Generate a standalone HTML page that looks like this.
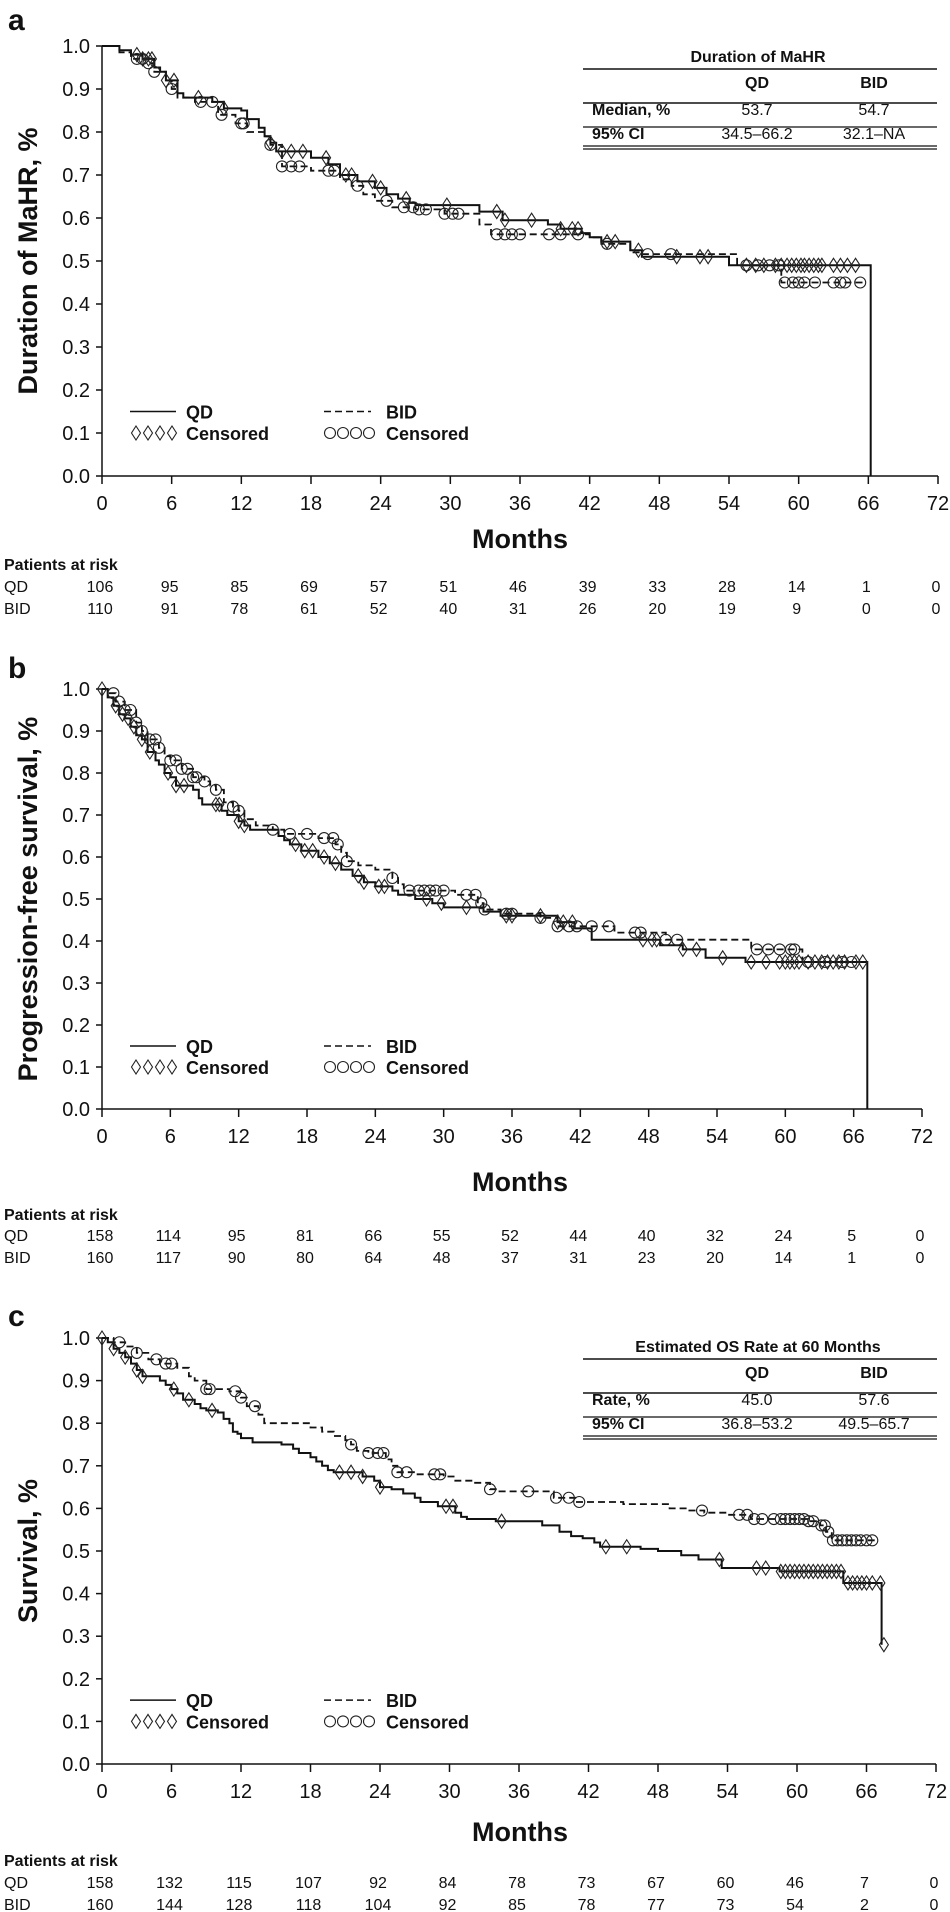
<!DOCTYPE html>
<html><head><meta charset="utf-8">
<style>
html,body{margin:0;padding:0;background:#fff;}
svg{display:block;font-family:"Liberation Sans",Arial,sans-serif;}
.tk{font-size:20px;fill:#111;}
.ttl{font-size:27px;font-weight:bold;fill:#111;}
.lg{font-size:18px;font-weight:bold;fill:#111;}
.rk{font-size:16px;fill:#111;}
.tb{font-size:16px;fill:#111;}
.tbb{font-size:16px;font-weight:bold;fill:#111;}
</style></head>
<body>
<svg id="chart" width="950" height="1912" viewBox="0 0 950 1912" xmlns="http://www.w3.org/2000/svg"></svg>
<script>
// ---------- shared axis data ----------
const xTicks = [0,6,12,18,24,30,36,42,48,54,60,66,72];
const yTicks = [0,0.1,0.2,0.3,0.4,0.5,0.6,0.7,0.8,0.9,1.0];

// ---------- Panel a: Duration of MaHR ----------
const aQdT = [0,1.5,2.5,3.5,4.5,5,5.5,6.5,7,9.5,10.5,12,12.5,13.5,14,14.5,15,18,19.5,20.5,22,23.5,24.5,25.5,26.5,27,32.5,34.5,38.4,39.5,41.3,42,43,45.5,46.5,54,66.2];
const aQdS = [1,0.99,0.98,0.97,0.95,0.94,0.92,0.89,0.88,0.87,0.855,0.85,0.83,0.81,0.79,0.775,0.755,0.74,0.725,0.70,0.685,0.67,0.655,0.645,0.635,0.63,0.615,0.595,0.585,0.575,0.565,0.555,0.545,0.525,0.51,0.49,0];
const aBidT = [0,1.5,2.5,4,4.5,5.5,6,6.5,8,10,11.5,12.5,14,14.5,15.5,18,20.5,21.5,22.5,23.5,25,27,29.5,32.5,33.5,42,43,45.5,46.5,54.7,58.5];
const aBidS = [1,0.985,0.97,0.96,0.94,0.92,0.90,0.88,0.87,0.84,0.82,0.80,0.79,0.77,0.72,0.71,0.69,0.675,0.655,0.64,0.625,0.62,0.61,0.585,0.562,0.555,0.54,0.52,0.516,0.49,0.45];
const aBidEnd = 65.5;
const aQdCens = [3,3.5,4,4.3,5.5,6.2,8.3,10.5,14.5,15.5,16.3,17.3,19.3,21,21.5,23.3,24,26.2,29.7,34,34.7,37,39.5,40.5,41,43.5,44.2,46.2,49.5,51.5,52.2,55.5,56.3,57,58,58.5,59,59.4,59.8,60.2,60.5,60.9,61.3,61.7,62,63,63.6,64.2,64.9];
const aBidCens = [3,3.5,4,4.5,6,8.5,9.5,10.3,12,12.2,14.5,15.5,16.3,17,19.5,20,22,24.5,26,26.8,27.3,27.9,29.5,30.2,30.7,34,34.7,35.3,36,38.5,39.5,41,43.5,47,49,55.5,56.5,57.5,58.3,58.8,59.5,60,60.5,61.4,63,63.6,64,65.3];
const aRiskQd = [106,95,85,69,57,51,46,39,33,28,14,1,0];
const aRiskBid = [110,91,78,61,52,40,31,26,20,19,9,0,0];

// ---------- Panel b: PFS ----------
const bQdT = [0,0.5,1,1.5,2,2.5,3,3.5,4,4.7,5,5.5,6,6.5,8,8.5,8.8,10.5,11,12,12.5,13,15.5,16,16.5,17.5,19,20,21,22,23,24,25.5,26,27.5,29,30,33.5,35,40,41.5,43,49,51,53,56.5,67.2];
const bQdS = [1,0.98,0.96,0.94,0.93,0.91,0.89,0.88,0.85,0.83,0.82,0.80,0.79,0.77,0.76,0.74,0.725,0.71,0.70,0.685,0.675,0.665,0.65,0.64,0.63,0.615,0.60,0.585,0.57,0.555,0.54,0.53,0.52,0.51,0.50,0.49,0.48,0.47,0.46,0.445,0.43,0.403,0.39,0.38,0.36,0.35,0];
const bBidT = [0,0.5,1.2,2,3,3.5,4,5,5.5,6,7,8,9,9.5,10,10.7,11.5,12,12.5,13.5,15,16,19,20.5,21,21.5,22.5,24,25.5,26,26.5,31,33,33.5,35,38.5,40,45,49.5,57,61.5];
const bBidS = [1,0.99,0.97,0.95,0.92,0.90,0.88,0.86,0.84,0.83,0.81,0.79,0.78,0.77,0.76,0.73,0.72,0.71,0.69,0.675,0.665,0.655,0.645,0.63,0.61,0.59,0.58,0.57,0.55,0.535,0.52,0.51,0.49,0.475,0.465,0.455,0.435,0.42,0.403,0.38,0.35];
const bBidEnd = 66.2;
const bQdCens = [0,1.2,1.8,2.3,2.8,3.5,4.2,5.8,6.5,7.2,10,10.3,12,12.5,17,17.8,18.5,19.5,20.5,22.5,23,24.3,24.8,28.5,29.8,32,35.5,36,38.5,40,40.5,41.3,47.5,48.3,48.7,51,52.2,54.5,57,58.3,59.5,60,60.4,60.8,61.2,62,62.6,63.2,63.7,64.2,64.7,65.2,66.2,66.8];
const bBidCens = [1,1.5,2,2.5,3,3.5,4.2,4.7,5,6,6.5,7,7.5,8,8.3,9,10,11.5,12,15,16.5,18,19.5,20.3,20.7,21.5,25.5,27,27.8,28.3,28.8,29.3,30,32,32.8,33.3,33.6,35.5,36,38.5,40,41,41.7,43,44.5,46.8,47.3,49.5,50.5,57.5,58.5,59.5,60.5,60.8,62,63.5,65,65.8];
const bRiskQd = [158,114,95,81,66,55,52,44,40,32,24,5,0];
const bRiskBid = [160,117,90,80,64,48,37,31,23,20,14,1,0];

// ---------- Panel c: OS ----------
const cQdT = [0,0.5,1,1.5,2,2.5,3,3.5,5,5.5,6,6.5,7,8,8.5,9,10,10.5,11,11.3,11.7,12,13,15.5,16.5,17,18,18.5,19,19.5,20,22.5,23.5,24,25,26,27,27.5,29,30.5,31,31.5,34,38,39.5,40.5,41.5,42.5,43,46.5,48,50,51.5,53.5,58.5,64,67.3];
const cQdS = [1,0.99,0.975,0.965,0.955,0.94,0.925,0.91,0.90,0.89,0.88,0.87,0.855,0.845,0.835,0.83,0.825,0.81,0.80,0.78,0.775,0.765,0.755,0.75,0.74,0.73,0.72,0.71,0.70,0.69,0.685,0.675,0.665,0.65,0.645,0.635,0.625,0.615,0.605,0.59,0.58,0.575,0.57,0.56,0.545,0.535,0.53,0.52,0.51,0.505,0.50,0.49,0.48,0.46,0.452,0.425,0.28];
const cBidT = [0,1,2,3,4,5,6.5,7.5,8,9,11,12,12.5,13.5,14,18,19,20,21,21.5,22,23,24.5,25,25.5,27,29.5,30.5,32,33.5,34,39,41,45,49,50.5,52,54,56,61,62,62.5,63];
const cBidS = [1,0.99,0.98,0.965,0.95,0.94,0.93,0.91,0.90,0.88,0.875,0.86,0.84,0.82,0.80,0.79,0.78,0.77,0.76,0.75,0.735,0.73,0.715,0.70,0.685,0.68,0.675,0.665,0.66,0.645,0.64,0.625,0.615,0.61,0.60,0.595,0.59,0.585,0.575,0.57,0.56,0.545,0.525];
const cBidEnd = 67;
const cQdCens = [0,1,2,3,3.5,6.2,7.5,9.5,20.5,21.5,22.5,24,29.7,30.3,34.5,43.5,45.3,53.3,56.5,57.3,58.6,59,59.4,59.8,60.2,60.6,61,61.4,61.8,62.2,62.6,63,63.4,63.8,64.4,64.8,65.2,65.6,66,66.5,67.2,67.5];
const cBidCens = [1.5,3,4.7,5.5,6,9,9.3,11.5,12,13.2,21.5,23,23.8,24.3,25.5,26.3,28.7,29.2,33.5,36.8,39.2,40.3,41.2,51.8,55,55.7,56.3,57,58,58.6,59,59.4,59.8,60.2,60.6,61,61.4,62.1,62.4,62.7,63.1,63.5,63.9,64.3,64.7,65.1,65.5,66,66.5];
const cRiskQd = [158,132,115,107,92,84,78,73,67,60,46,7,0];
const cRiskBid = [160,144,128,118,104,92,85,78,77,73,54,2,0];

// ---------- drawing ----------
const NS = "http://www.w3.org/2000/svg";
const svg = document.getElementById('chart');
function mk(tag, attrs, parent, text){
  const e = document.createElementNS(NS, tag);
  for (const k in attrs) e.setAttribute(k, attrs[k]);
  if (text !== undefined) e.textContent = text;
  (parent || svg).appendChild(e);
  return e;
}
function stepVal(T,S,t){ let v=S[0]; for(let i=0;i<T.length;i++){ if(T[i]<=t) v=S[i]; } return v; }
function stepPath(T,S,sx,sy,endT){
  let d = 'M'+sx(T[0])+','+sy(S[0]);
  for(let i=1;i<T.length;i++){ d += ' H'+sx(T[i]).toFixed(1)+' V'+sy(S[i]).toFixed(1); }
  d += ' H'+sx(endT).toFixed(1);
  return d;
}

function panel(cfg){
  const g = mk('g', {});
  
  
  const sx = m => cfg.x0 + (cfg.x1-cfg.x0)*m/72;
  const sy = v => cfg.yb - (cfg.yb-cfg.yt)*v;
  // letter
  const L = mk('text', {x:8, y:cfg.letterY, 'font-size':30, 'font-weight':'bold', fill:'#111'}, g, cfg.id);
  
  
  // axes
  const ax = mk('g', {stroke:'#111','stroke-width':1.5, fill:'none'}, g);
  
  
  mk('line', {x1:cfg.x0, y1:cfg.yt, x2:cfg.x0, y2:cfg.yb}, ax);
  mk('line', {x1:cfg.x0, y1:cfg.yb, x2:cfg.x1, y2:cfg.yb}, ax);
  yTicks.forEach(v=>{
    mk('line', {x1:cfg.x0-6, y1:sy(v), x2:cfg.x0, y2:sy(v)}, ax);
    const t = mk('text', {x:cfg.x0-12, y:sy(v)+7, 'text-anchor':'end', class:'tk'}, g, v.toFixed(1));
    
    
  });
  xTicks.forEach((m,i)=>{
    mk('line', {x1:sx(m), y1:cfg.yb, x2:sx(m), y2:cfg.yb+8}, ax);
    const t = mk('text', {x:sx(m), y:cfg.yb+34, 'text-anchor':'middle', class:'tk'}, g, String(m));
    
    
    const r1 = mk('text', {x:sx(m)-2, y:cfg.riskY1, 'text-anchor':'middle', class:'rk'}, g, String(cfg.riskQd[i]));
    
    
    const r2 = mk('text', {x:sx(m)-2, y:cfg.riskY2, 'text-anchor':'middle', class:'rk'}, g, String(cfg.riskBid[i]));
    
    
  });
  // titles
  const yc = (cfg.yt+cfg.yb)/2;
  const yt = mk('text', {x:0, y:0, transform:'translate(37,'+yc+') rotate(-90)', 'text-anchor':'middle', class:'ttl'}, g, cfg.ytitle);
  
  
  const xt = mk('text', {x:(cfg.x0+938)/2, y:cfg.monthsY, 'text-anchor':'middle', class:'ttl'}, g, 'Months');
  
  
  // risk table labels
  const pr = mk('text', {x:4, y:cfg.riskY0, 'font-size':16, 'font-weight':'bold', fill:'#111'}, g, 'Patients at risk');
  
  
  const lq = mk('text', {x:4, y:cfg.riskY1, class:'rk'}, g, 'QD');
  
  
  const lb = mk('text', {x:4, y:cfg.riskY2, class:'rk'}, g, 'BID');
  
  
  // curves
  const pq = mk('path', {d:stepPath(cfg.qdT,cfg.qdS,sx,sy,cfg.qdT[cfg.qdT.length-1]), fill:'none', stroke:'#111','stroke-width':2}, g);
  
  
  const pb = mk('path', {d:stepPath(cfg.bidT,cfg.bidS,sx,sy,cfg.bidEnd), fill:'none', stroke:'#111','stroke-width':1.8,'stroke-dasharray':'7,4'}, g);
  
  
  // censor marks
  const cg = mk('g', {fill:'none', stroke:'#222','stroke-width':1.1}, g);
  cfg.qdCens.forEach(t=>{
    let v = stepVal(cfg.qdT,cfg.qdS,t); if(v===0) v = cfg.qdS[cfg.qdS.length-2];
    const x = sx(t), y = sy(v);
    const d = mk('path', {d:'M'+x+','+(y-7)+' L'+(x+4.5)+','+y+' L'+x+','+(y+7)+' L'+(x-4.5)+','+y+' Z'}, cg);
    
    
  });
  cfg.bidCens.forEach(t=>{
    const v = stepVal(cfg.bidT,cfg.bidS,t);
    const c = mk('circle', {cx:sx(t), cy:sy(v), r:5.5}, cg);
    
    
  });
  // legend
  const lgY1 = sy(0.135)+2, lgY2 = sy(0.115)+6;
  const lgd = mk('g', {}, g);
  
  
  mk('line', {x1:130, y1:sy(0.15), x2:176, y2:sy(0.15), stroke:'#111','stroke-width':1.5}, lgd);
  mk('text', {x:186, y:sy(0.15)+7, class:'lg'}, lgd, 'QD');
  mk('line', {x1:324, y1:sy(0.15), x2:371, y2:sy(0.15), stroke:'#111','stroke-width':1.5,'stroke-dasharray':'7,4'}, lgd);
  mk('text', {x:386, y:sy(0.15)+7, class:'lg'}, lgd, 'BID');
  const ry = sy(0.1);
  for(let k=0;k<4;k++){
    const x = 136 + k*12;
    mk('path', {d:'M'+x+','+(ry-7)+' L'+(x+4.5)+','+ry+' L'+x+','+(ry+7)+' L'+(x-4.5)+','+ry+' Z', fill:'none', stroke:'#222','stroke-width':1.1}, lgd);
    mk('circle', {cx:330+k*13, cy:ry, r:5.5, fill:'none', stroke:'#222','stroke-width':1.1}, lgd);
  }
  mk('text', {x:186, y:ry+7, class:'lg'}, lgd, 'Censored');
  mk('text', {x:386, y:ry+7, class:'lg'}, lgd, 'Censored');
}

function table(cfg){
  const g = mk('g', {});
  
  
  const x0=583, x1=937, y=cfg.y;
  mk('text', {x:758, y:y, 'text-anchor':'middle', class:'tbb'}, g, cfg.title);
  [[y+7,1.6],[y+41,1.6],[y+65,1.2],[y+84,1.2],[y+87,1.2]].forEach(l=>mk('line',{x1:x0,x2:x1,y1:l[0],y2:l[0],stroke:'#111','stroke-width':l[1]},g));
  mk('text', {x:757, y:y+26, 'text-anchor':'middle', class:'tbb'}, g, 'QD');
  mk('text', {x:874, y:y+26, 'text-anchor':'middle', class:'tbb'}, g, 'BID');
  mk('text', {x:592, y:y+53, class:'tbb'}, g, cfg.r1);
  mk('text', {x:757, y:y+53, 'text-anchor':'middle', class:'tb'}, g, cfg.v1[0]);
  mk('text', {x:874, y:y+53, 'text-anchor':'middle', class:'tb'}, g, cfg.v1[1]);
  mk('text', {x:592, y:y+77, class:'tbb'}, g, '95% CI');
  mk('text', {x:757, y:y+77, 'text-anchor':'middle', class:'tb'}, g, cfg.v2[0]);
  mk('text', {x:874, y:y+77, 'text-anchor':'middle', class:'tb'}, g, cfg.v2[1]);
}

panel({id:'a', x0:102, x1:938, yt:46, yb:476, letterY:30, ytitle:'Duration of MaHR, %', monthsY:548,
  riskY0:570, riskY1:592, riskY2:614, riskQd:aRiskQd, riskBid:aRiskBid,
  qdT:aQdT, qdS:aQdS, bidT:aBidT, bidS:aBidS, bidEnd:aBidEnd, qdCens:aQdCens, bidCens:aBidCens});
panel({id:'b', x0:102, x1:922, yt:689, yb:1109, letterY:678, ytitle:'Progression-free survival, %', monthsY:1191,
  riskY0:1220, riskY1:1241, riskY2:1263, riskQd:bRiskQd, riskBid:bRiskBid,
  qdT:bQdT, qdS:bQdS, bidT:bBidT, bidS:bBidS, bidEnd:bBidEnd, qdCens:bQdCens, bidCens:bBidCens});
panel({id:'c', x0:102, x1:936, yt:1338, yb:1764, letterY:1326, ytitle:'Survival, %', monthsY:1841,
  riskY0:1866, riskY1:1888, riskY2:1910, riskQd:cRiskQd, riskBid:cRiskBid,
  qdT:cQdT, qdS:cQdS, bidT:cBidT, bidS:cBidS, bidEnd:cBidEnd, qdCens:cQdCens, bidCens:cBidCens});

table({name:'mahr-summary-table', y:62, title:'Duration of MaHR', r1:'Median, %', v1:['53.7','54.7'], v2:['34.5–66.2','32.1–NA']});
table({name:'os-summary-table', y:1352, title:'Estimated OS Rate at 60 Months', r1:'Rate, %', v1:['45.0','57.6'], v2:['36.8–53.2','49.5–65.7']});
</script>
</body></html>
